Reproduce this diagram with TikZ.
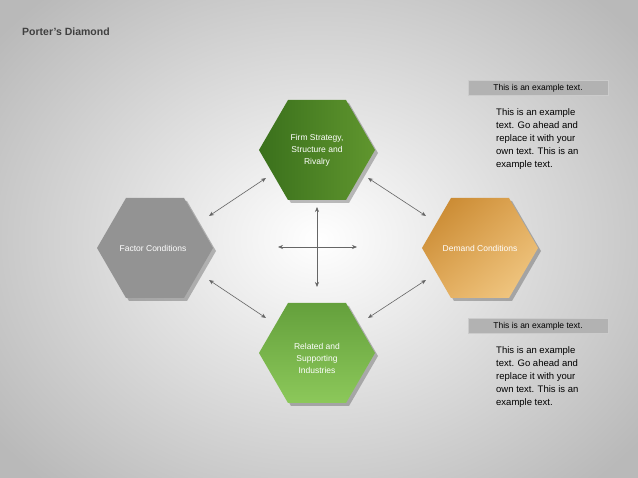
\documentclass[tikz,border=0pt]{standalone}
\usepackage{fontspec}
\setmainfont{Liberation Sans}
\usetikzlibrary{arrows.meta,shadings}
\definecolor{txtgray}{HTML}{404040}
\definecolor{gA}{RGB}{58,112,28}
\definecolor{gB}{RGB}{96,150,46}
\definecolor{lA}{RGB}{100,160,60}
\definecolor{lB}{RGB}{140,200,90}
\definecolor{oA}{RGB}{196,130,40}
\definecolor{oB}{RGB}{244,206,140}
\definecolor{oC}{RGB}{225,170,90}
\tikzset{
  hexlbl/.style={text=white,font=\fontsize{8.5}{12}\selectfont,align=center},
  conn/.style={draw=gray!80!black,line width=0.6pt,{Stealth[length=5pt,width=4pt]}-{Stealth[length=5pt,width=4pt]}},
  bar/.style={fill=gray!60,draw=gray!40,minimum width=140pt,minimum height=15pt,inner sep=0pt,font=\fontsize{8.5}{10}\selectfont,text=black},
  para/.style={anchor=north west,align=left,font=\fontsize{9.5}{13}\selectfont,text=black,inner sep=0pt}
}
\newcommand{\hexpath}[2]{(#1-58,#2) -- (#1-29,#2+50) -- (#1+29,#2+50) -- (#1+58,#2) -- (#1+29,#2-50) -- (#1-29,#2-50) -- cycle}
\begin{document}
\begin{tikzpicture}[x=1pt,y=-1pt]
\useasboundingbox (0,0) rectangle (638,478);
\shade[inner color=white,outer color=gray!55] (-90,-90) rectangle (728,568);
\node[anchor=west,inner sep=0pt,font=\bfseries\fontsize{10.5}{12}\selectfont,text=txtgray] (title) at (22,32) {Porter’s Diamond};
\foreach \cx/\cy in {317/150,155/248,480/248,317/353}{
  \fill[black,opacity=0.25] \hexpath{\cx+3}{\cy+3};
}
\shade[left color=gA,right color=gB] \hexpath{317}{150};
\shade[top color=lA,bottom color=lB] \hexpath{317}{353};
\fill[gray!85] \hexpath{155}{248};
\shade[upper left=oA,lower right=oB,upper right=oC,lower left=oC] \hexpath{480}{248};
\node[hexlbl] (firm) at (317,150) {Firm Strategy,\\Structure and\\Rivalry};
\node[hexlbl] (rel) at (317,358) {Related and\\Supporting\\Industries};
\node[hexlbl] (fac) at (153,248) {Factor Conditions};
\node[hexlbl] (dem) at (480,248) {Demand Conditions};
\coordinate (a1) at (209,216); \coordinate (a2) at (266,178);
\coordinate (b1) at (368,178); \coordinate (b2) at (426,216);
\coordinate (c1) at (209,280); \coordinate (c2) at (266,318);
\coordinate (d1) at (368,318); \coordinate (d2) at (426,280);
\coordinate (h1) at (278,247); \coordinate (h2) at (357,247);
\coordinate (v1) at (317,207); \coordinate (v2) at (317,287);
\draw[conn] (a1) -- (a2);
\draw[conn] (b1) -- (b2);
\draw[conn] (c1) -- (c2);
\draw[conn] (d1) -- (d2);
\draw[conn] (h1) -- (h2);
\draw[conn] (v1) -- (v2);
\node[bar] (bar1) at (538,88) {This is an example text.};
\node[bar] (bar2) at (538,326) {This is an example text.};
\node[para] (p1) at (496,108) {This is an example\\text. Go ahead and\\replace it with your\\own text. This is an\\example text.};
\node[para] (p2) at (496,346) {This is an example\\text. Go ahead and\\replace it with your\\own text. This is an\\example text.};
\end{tikzpicture}
\end{document}
